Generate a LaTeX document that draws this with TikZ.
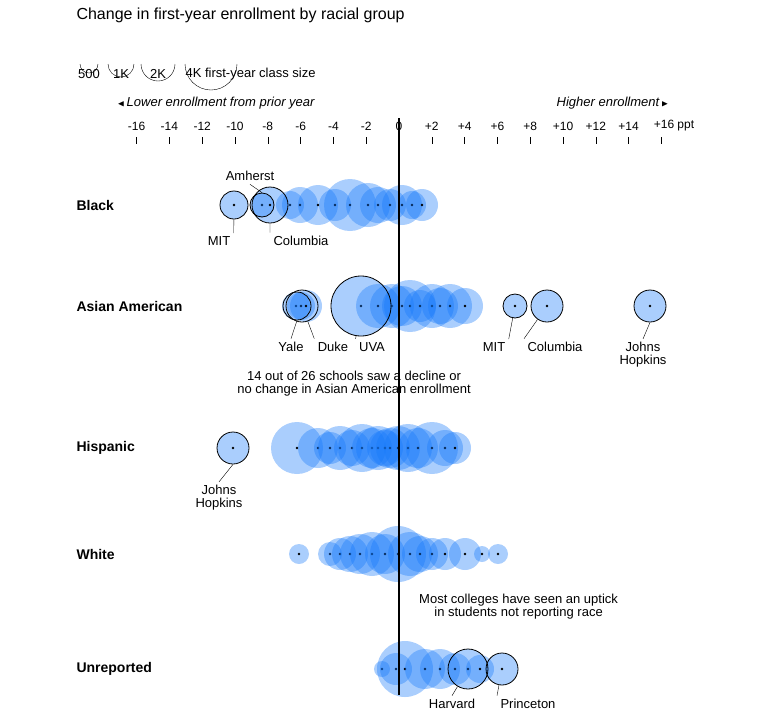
\documentclass[tikz,border=0pt]{standalone}
\usepackage{amssymb}
\usepackage{fontspec}
\setmainfont{Liberation Sans}
\usetikzlibrary{positioning}
\definecolor{bubblue}{RGB}{20,120,250}
\tikzset{
	bub/.style={circle, fill=bubblue, fill opacity=0.38, inner sep=0pt},
	ring/.style={circle, draw=black, thick, inner sep=0pt},
	lab/.style={font=\fontsize{13}{15}\selectfont, align=center},
	rowlab/.style={font=\fontsize{14}{16}\selectfont\bfseries, anchor=west},
	tick/.style={font=\fontsize{12}{14}\selectfont}
}
\newcommand{\bubs}[2]{% y, list of x/r
	\foreach \bx/\br in {#2}{
		\fill[bubblue, opacity=0.36] (\bx,#1) circle (\br);
		\fill (\bx,#1) circle (1.4);
	}
}
\begin{document}
\begin{tikzpicture}[x=1pt,y=-1pt]
		\useasboundingbox (0,0) rectangle (768,724);
		\node[anchor=west, font=\fontsize{16}{18}\selectfont] (title) at (73,15) {Change in first-year enrollment by racial group};
		% legend
		\foreach \lx/\lr/\lt in {89/9/500, 121/13/1K, 158/17/2K} {
			\draw (\lx-\lr,64) arc (180:0:\lr);
			\node[lab] at (\lx,74) {\lt};
		}
		\draw (185,64) arc (180:0:26);
		\node[lab, anchor=west] (sizelab) at (182,74) {4K first-year class size};
		% axis
		\node[anchor=west, font=\fontsize{13}{15}\selectfont\itshape] (lower) at (114,103) {{\upshape\fontsize{9}{10}\selectfont$\blacktriangleleft$}\,Lower enrollment from prior year};
		\node[anchor=east, font=\fontsize{13}{15}\selectfont\itshape] (higher) at (672,103) {Higher enrollment\,{\upshape\fontsize{9}{10}\selectfont$\blacktriangleright$}};
		\foreach \t in {-16,-14,...,-2} {
			\node[tick] at (399+16.4*\t,126) {-\the\numexpr-\t\relax};
			\draw (399+16.4*\t,137) -- (399+16.4*\t,144);
		}
		\node[tick] at (399,126) {0};
		\foreach \t in {2,4,...,14} {
			\node[tick] at (399+16.4*\t,126) {+\t};
			\draw (399+16.4*\t,137) -- (399+16.4*\t,144);
		}
		\node[tick] at (674,126) {+16 ppt};
		\draw (661.4,137) -- (661.4,144);
		% Black
		\node[rowlab] (black) at (73,205) {Black};
		\bubs{205}{234/14, 262/12, 270/18, 290/14, 300/18, 318/20, 335/16, 350/26, 368/22, 378/18, 390/16, 402/20, 412/14, 422/16}
		\node[ring, minimum size=28] (mitb) at (234,205) {};
		\node[ring, minimum size=24] (amh) at (262,205) {};
		\node[ring, minimum size=36] (colb) at (270,205) {};
		\node[lab] (mitbl) at (219,241) {MIT};
		\node[lab] (amhl) at (250,176) {Amherst};
		\node[lab] (colbl) at (301,241) {Columbia};
		\draw (mitbl.north east) -- (mitb);
		\draw (amhl.south) -- (amh.north);
		\draw (colbl.north west) -- (colb);
		% Asian American
		\node[rowlab] (asian) at (73,306) {Asian American};
		\bubs{306}{296/14, 301/14, 306/16, 361/30, 378/22, 392/22, 402/20, 410/26, 420/16, 432/22, 440/18, 450/22, 465/18, 515/12, 547/16, 650/16}
		\node[ring, minimum size=28] (yale) at (297,306) {};
		\node[ring, minimum size=32] (duke) at (302,306) {};
		\node[ring, minimum size=60] (uva) at (361,306) {};
		\node[ring, minimum size=24] (mita) at (515,306) {};
		\node[ring, minimum size=32] (cola) at (547,306) {};
		\node[ring, minimum size=32] (jha) at (650,306) {};
		\node[lab] (yalel) at (291,347) {Yale};
		\node[lab] (dukel) at (333,347) {Duke};
		\node[lab] (uval) at (372,347) {UVA};
		\node[lab] (mital) at (494,347) {MIT};
		\node[lab] (colal) at (555,347) {Columbia};
		\node[lab] (jhal) at (643,355) {Johns\\[-2pt]Hopkins};
		\draw (yalel.north) -- (yale.south);
		\draw (dukel.north west) -- (duke);
		\draw (uval.north west) -- (uva);
		\draw (mital.north east) -- (mita);
		\draw (colal.north west) -- (cola);
		\draw (jhal.north) -- (jha.south);
		\node[lab, fill=white, inner sep=1pt] (note1) at (354,384) {14 out of 26 schools saw a decline or\\[-2pt]no change in Asian American enrollment};
		% Hispanic
		\node[rowlab] (hisp) at (73,448) {Hispanic};
		\bubs{448}{233/16, 297/26, 318/20, 330/16, 340/22, 352/18, 362/24, 372/20, 378/22, 385/18, 390/20, 398/22, 408/24, 418/20, 432/26, 445/18, 455/16}
		\node[ring, minimum size=32] (jhh) at (233,448) {};
		\node[lab] (jhhl) at (219,498) {Johns\\[-2pt]Hopkins};
		\draw (jhhl.north) -- (jhh.south);
		% White
		\node[rowlab] (white) at (73,554) {White};
		\bubs{554}{299/10, 330/12, 340/16, 350/18, 360/20, 372/22, 385/20, 398/28, 410/22, 420/18, 432/16, 445/16, 465/16, 482/8, 498/10}
		\node[lab, anchor=west, fill=white, inner sep=1pt] (note2) at (418,607) {Most colleges have seen an uptick\\[-2pt]in students not reporting race};
		% Unreported
		\node[rowlab] (unrep) at (73,669) {Unreported};
		\bubs{669}{382/8, 396/16, 405/28, 425/20, 440/20, 455/16, 468/20, 480/14, 502/16}
		\node[ring, minimum size=40] (harv) at (468,669) {};
		\node[ring, minimum size=32] (prin) at (502,669) {};
		\node[lab] (harvl) at (452,704) {Harvard};
		\node[lab] (prinl) at (528,704) {Princeton};
		\draw (harvl.north) -- (harv);
		\draw (prinl.north west) -- (prin);
		% zero line
		\coordinate (ztop) at (399,118);
		\coordinate (zbot) at (399,695);
		\draw[line width=1.6pt] (ztop) -- (zbot);
	\end{tikzpicture}
\end{document}
